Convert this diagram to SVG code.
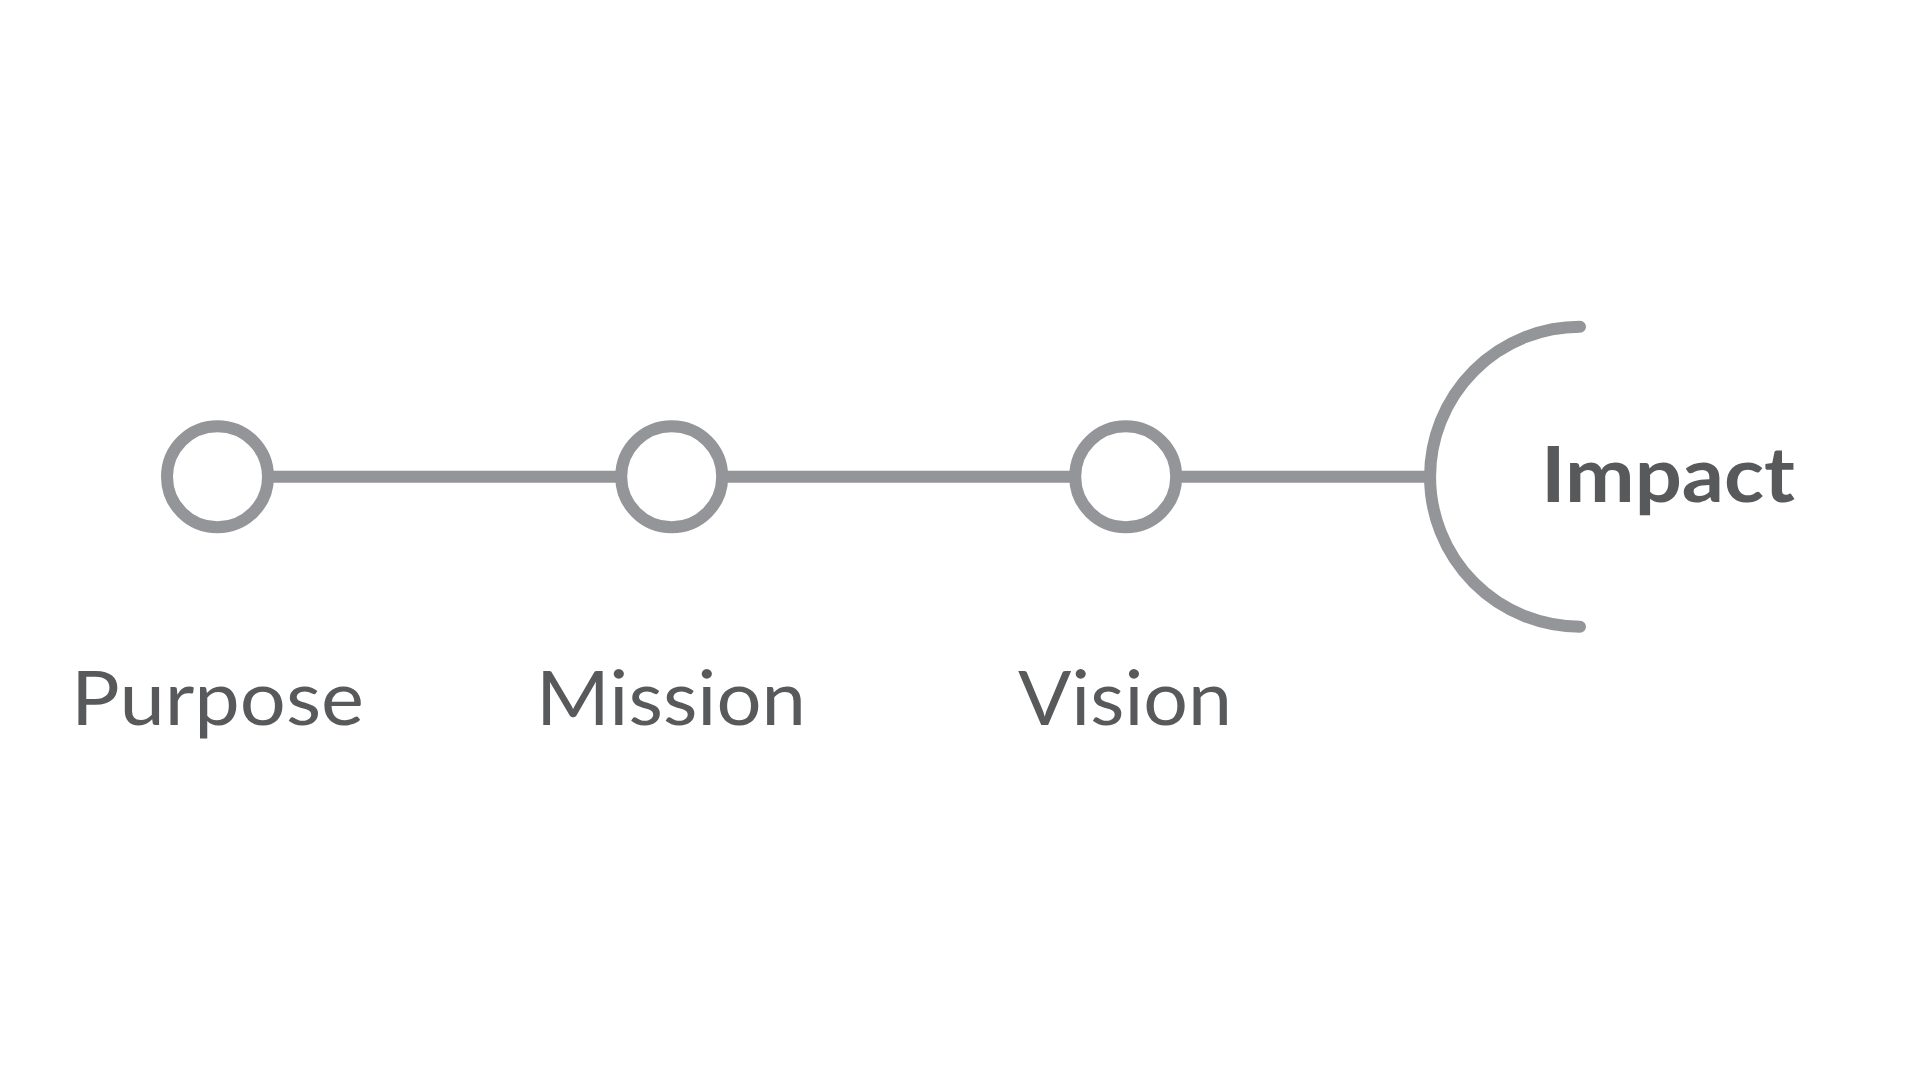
<svg xmlns="http://www.w3.org/2000/svg" width="1920" height="1080" viewBox="0 0 1920 1080">
  <style>
    .ring { fill: #ffffff; stroke: #939598; stroke-width: 12; }
    .conn { stroke: #939598; stroke-width: 12; fill: none; }
    .arc { stroke: #939598; stroke-width: 12; fill: none; stroke-linecap: round; }
    .label { font-family: Lato, "Liberation Sans", sans-serif; font-size: 76px; fill: #58595b; }
    .bold { font-weight: 700; }
  </style>
  <rect width="1920" height="1080" fill="#ffffff"/>
  <g id="connectors">
    <line class="conn" x1="273" y1="476.7" x2="616" y2="476.7"/>
    <line class="conn" x1="727" y1="476.7" x2="1070" y2="476.7"/>
    <line class="conn" x1="1181" y1="476.7" x2="1430" y2="476.7"/>
  </g>
  <g id="node-purpose">
    <circle class="ring" cx="217.5" cy="476.7" r="50.5"/>
    <text class="label" x="71" y="725" textLength="293" lengthAdjust="spacingAndGlyphs">Purpose</text>
  </g>
  <g id="node-mission">
    <circle class="ring" cx="671.7" cy="476.7" r="50.5"/>
    <text class="label" x="536" y="725" textLength="270" lengthAdjust="spacingAndGlyphs">Mission</text>
  </g>
  <g id="node-vision">
    <circle class="ring" cx="1125.7" cy="476.7" r="50.5"/>
    <text class="label" x="1018" y="725" textLength="214" lengthAdjust="spacingAndGlyphs">Vision</text>
  </g>
  <g id="node-impact">
    <path class="arc" d="M 1580 326.7 A 150 150 0 0 0 1580 626.7"/>
    <text class="label bold" x="1541" y="502" textLength="254" lengthAdjust="spacingAndGlyphs">Impact</text>
  </g>
</svg>
